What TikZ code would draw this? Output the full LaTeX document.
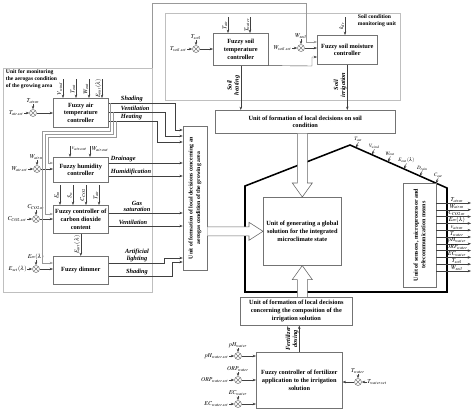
\documentclass[tikz,border=0pt]{standalone}
\usepackage{mathptmx}
\usepackage{fontspec}
\setmainfont{Liberation Serif}
\usetikzlibrary{calc,positioning,arrows.meta}

\tikzset{
	unitframe/.style={draw=black!25, line width=0.4pt},
	house/.style={draw=black, line width=1.1pt, line join=miter},
	ctrl/.style={draw=black!55, fill=white, line width=0.4pt, align=center, inner sep=1pt, font=\fontsize{4.5}{5.6}\selectfont\bfseries},
	unit/.style={ctrl},
	title/.style={align=left, inner sep=0.5pt, font=\fontsize{4}{4.8}\selectfont\bfseries},
	sum/.style={circle, draw=black!50, fill=white, inner sep=0pt, minimum size=0.175cm,
		path picture={\draw[black!50] (path picture bounding box.north west) -- (path picture bounding box.south east)
			(path picture bounding box.north east) -- (path picture bounding box.south west);}},
	arr/.style={draw=black!75, line width=0.3pt, -{Stealth[length=2.4pt,width=1.8pt]}},
	fb/.style={arr, draw=black!40},
	sig/.style={inner sep=0.4pt, font=\fontsize{4.2}{4.8}\selectfont},
	roofsig/.style={inner sep=0.1pt, font=\fontsize{3.6}{4}\selectfont},
	act/.style={inner sep=0.5pt, align=center, font=\fontsize{4.5}{4.9}\selectfont\bfseries\itshape},
	fat/.style={draw=black!60, fill=white, line width=0.4pt, line join=miter}
}

\begin{document}
\begin{tikzpicture}[x=0.025cm,y=-0.025cm]
	\useasboundingbox (0,0) rectangle (474,410);
	
	%frames of the monitoring units
	\draw[unitframe] (3,68) rectangle (152,292);
	\draw[unitframe] (165,13) rectangle (400,100);
	
	%greenhouse
	\draw[house] (245,292) -- (245,186) -- (350,145) -- (447,188) -- (447,292) -- cycle;
	
	%titles
	\node[title, anchor=north west] (agtitle) at (5,69) {Unit for monitoring\\the aerogas condition\\of the growing area};
	\node[title, anchor=north west] (sltitle) at (357,14) {Soil condition\\monitoring unit};
	
	%aerogas controllers
	\node[ctrl, anchor=north west, minimum width=1.375cm, minimum height=0.725cm] (atc) at (53,98) {Fuzzy air\\temperature\\controller};
	\node[ctrl, anchor=north west, minimum width=1.375cm, minimum height=0.625cm] (hc) at (53,157) {Fuzzy humidity\\controller};
	\node[ctrl, anchor=north west, minimum width=1.375cm, minimum height=0.7cm] (cc) at (53,205) {Fuzzy controller of\\carbon dioxide\\content};
	\node[ctrl, anchor=north west, minimum width=1.375cm, minimum height=0.7cm] (dim) at (53,256) {Fuzzy dimmer};
	
	%soil controllers
	\node[ctrl, anchor=north west, minimum width=1.375cm, minimum height=0.8cm] (stc) at (213,33) {Fuzzy soil\\temperature\\controller};
	\node[ctrl, anchor=north west, minimum width=1.5cm, minimum height=0.725cm] (smc) at (317,35) {Fuzzy soil moisture\\controller};
	
	%decision units
	\node[unit, rotate=90, minimum width=3.6cm, minimum height=0.6cm, font=\fontsize{4.1}{5.2}\selectfont\bfseries] (agd) at (195,198) {Unit of formation of local decisions concerning an\\aerogas condition of the growing area};
	\node[unit, anchor=north west, minimum width=4.5cm, minimum height=0.575cm] (sdec) at (215,110) {Unit of formation of local decisions on soil\\condition};
	\node[unit, anchor=north west, minimum width=1.95cm, minimum height=1.7cm] (glob) at (263,197) {Unit of generating a global\\solution for the integrated\\microclimate state};
	\node[unit, anchor=north west, minimum width=2.8cm, minimum height=0.7cm] (bdec) at (240,297) {Unit of formation of local decisions\\concerning the composition of the\\irrigation solution};
	\node[unit, rotate=90, minimum width=2.6cm, minimum height=0.825cm, font=\fontsize{4.3}{5.4}\selectfont\bfseries] (sens) at (419.5,235) {Unit of sensors, microprocessor and\\telecommunication means};
	\node[ctrl, anchor=north west, minimum width=2.15cm, minimum height=1.4cm] (fc) at (256,352) {Fuzzy controller of fertilizer\\application to the irrigation\\solution};
	
	%summing junctions - aerogas
	\node[sum] (jT) at (33,113) {};
	\node[sum] (jW) at (37,169) {};
	\node[sum] (jC) at (36,219) {};
	\node[sum] (jE) at (36,269) {};
	%
	\node[sig, above=1.2mm of jT] (jTm) {$T_{air.m}$};
	\node[sig, above=1.2mm of jW] (jWm) {$W_{air.m}$};
	\node[sig, above=1.2mm of jC] (jCm) {$C_{CO2.m}$};
	\node[sig, above=1.2mm of jE] (jEm) {$E_{m}(\lambda)$};
	%
	\node[sig, left=1.2mm of jT] (jTs) {$T_{air.set}$};
	\node[sig, left=1.2mm of jW] (jWs) {$W_{air.set}$};
	\node[sig, left=1.2mm of jC] (jCs) {$C_{CO2.set}$};
	\node[sig, left=1.2mm of jE] (jEs) {$E_{set}(\lambda)$};
	%
	\foreach \j/\c in {jT/atc, jW/hc, jC/cc, jE/dim}{
		\draw[arr] (\j m) -- (\j);
		\draw[arr] (\j s) -- (\j);
		\draw[arr] (\j) -- (\j -| \c.west);
	}
	
	%disturbances into the aerogas controllers
	\foreach \x/\lbl in {63/{V_{wind}},76/{T_{out}},89/{W_{out}},102/{E_{out}(\lambda)}}{
		\coordinate (ai\x) at (\x,79);
		\draw[arr] (ai\x) -- (ai\x |- atc.north) node[sig, midway, rotate=90, anchor=south] (ail\x) {$\lbl$};
	}
	\foreach \x/\lbl in {70/{v_{air.out}},90/{W_{air.out}}}{
		\coordinate (hi\x) at (\x,146);
		\draw[arr] (hi\x) -- (hi\x |- hc.north);
		\node[sig, anchor=west] (hil\x) at ($(hi\x)+(1,3)$) {$\lbl$};
	}
	\foreach \x/\lbl in {60/{E_{m}},73/{S_{w}},86/{C_{CO2}},99/{T_{air}}}{
		\coordinate (ci\x) at (\x,185);
		\draw[arr] (ci\x) -- (ci\x |- cc.north) node[sig, midway, rotate=90, anchor=south] (cil\x) {$\lbl$};
	}
	\draw[arr] (cc.south) -- (cc.south |- dim.north) node[sig, midway, rotate=90, anchor=south] (eart) {$E_{art}(\lambda)$};
	
	%actuator signals to the aerogas decision unit
	\coordinate (ash) at (175,103);
	\coordinate (ave) at (165,112);
	\coordinate (ahe) at (157,121);
	\draw[arr] (atc.east |- ash) -- (ash) |- (agd.north |- 0,130);
	\draw[arr] (atc.east |- ave) -- (ave) |- (agd.north |- 0,136);
	\draw[arr] (atc.east |- ahe) -- (ahe) |- (agd.north |- 0,142);
	\node[act, anchor=south west] (lsh) at (120,103) {Shading};
	\node[act, anchor=south west] (lve) at (120,112) {Ventilation};
	\node[act, anchor=south west] (lhe) at (120,121) {Heating};
	%
	\draw[arr] (hc.east |- 0,163) -- (agd.north |- 0,163);
	\draw[arr] (hc.east |- 0,176) -- (agd.north |- 0,176);
	\node[act, anchor=south west] (ldr) at (110,163) {Drainage};
	\node[act, anchor=south west] (lhu) at (110,176) {Humidification};
	%
	\draw[arr] (cc.east |- 0,213) -- (agd.north |- 0,213);
	\draw[arr] (cc.east |- 0,226) -- (agd.north |- 0,226);
	\node[act, anchor=south] (lgs) at (137,213) {Gas\\saturation};
	\node[act, anchor=south] (lcv) at (133,226) {Ventilation};
	%
	\coordinate (dal) at (164,263);
	\coordinate (dsh) at (172,276);
	\draw[arr] (dim.east |- dal) -- (dal) |- (agd.north |- 0,258);
	\draw[arr] (dim.east |- dsh) -- (dsh) |- (agd.north |- 0,262);
	\node[act, anchor=south] (lal) at (137,263) {Artificial\\lighting};
	\node[act, anchor=south] (lds) at (137,276) {Shading};
	
	%feedback rails
	\draw[fb] (110,103) -- (110,131) -- (42,131) -- (42,263) -- (dim.west |- 0,263);
	\draw[fb] (113,112) -- (113,134) -- (45,134) -- (45,214) -- (cc.west |- 0,214);
	\draw[fb] (116,121) -- (116,137) -- (48,137) -- (48,163) -- (hc.west |- 0,163);
	
	%summing junctions - soil
	\node[sum] (st) at (196,49) {};
	\node[sum] (sw) at (301,48) {};
	\node[sig, above=1.2mm of st] (stm) {$T_{soil}$};
	\node[sig, above=1.2mm of sw] (swm) {$W_{soil}$};
	\node[sig, left=1.2mm of st] (sts) {$T_{soil.set}$};
	\node[sig, left=1.2mm of sw] (sws) {$W_{soil.set}$};
	\foreach \j/\c in {st/stc, sw/smc}{
		\draw[arr] (\j m) -- (\j);
		\draw[arr] (\j s) -- (\j);
		\draw[arr] (\j) -- (\j -| \c.west);
	}
	\foreach \x/\lbl in {228/{T_{air}},250/{T_{water}}}{
		\coordinate (si\x) at (\x,17);
		\draw[arr] (si\x) -- (si\x |- stc.north) node[sig, midway, rotate=90, anchor=south] (sil\x) {$\lbl$};
	}
	\coordinate (mi) at (345,17);
	\draw[arr] (mi) -- (mi |- smc.north) node[sig, midway, rotate=90, anchor=south] (mil) {$k_{dr}$};
	%
	\coordinate (tk1) at (312,66);
	\coordinate (tk2) at (312,57);
	\draw[arr] (stc.south east) -- (tk1) -- (tk2) -- (tk2 -| smc.west);
	%
	\coordinate (gA) at (152,68);
	\coordinate (gB) at (152,3);
	\coordinate (gC) at (306,3);
	\coordinate (gD) at (306,42);
	\draw[fb] (gA) -- (gB) -- (gC) -- (gD) -- (gD -| smc.west);
	%
	\draw[arr] (stc.south) -- (stc.south |- sdec.north) node[act, pos=0.45, rotate=90, anchor=south] (lsoh) {Soil\\heating};
	\draw[arr] (smc.south) -- (smc.south |- sdec.north) node[act, pos=0.45, rotate=90, anchor=south] (lsoi) {Soil\\irrigation};
	
	%fat arrows to the global unit
	\coordinate (fa1) at (glob.north |- sdec.south);
	\draw[fat] ($(fa1)+(-5,0)$) -- ($(glob.north)+(-5,-14)$) -- ($(glob.north)+(-10,-14)$) -- (glob.north) -- ($(glob.north)+(10,-14)$) -- ($(glob.north)+(5,-14)$) -- ($(fa1)+(5,0)$);
	\coordinate (fb1) at (agd.south |- glob.west);
	\draw[fat] ($(fb1)+(0,-4.5)$) -- ($(glob.west)+(-14,-4.5)$) -- ($(glob.west)+(-14,-9)$) -- (glob.west) -- ($(glob.west)+(-14,9)$) -- ($(glob.west)+(-14,4.5)$) -- ($(fb1)+(0,4.5)$);
	\coordinate (fc1) at (glob.south |- bdec.north);
	\draw[fat] ($(fc1)+(-5,0)$) -- ($(glob.south)+(-5,14)$) -- ($(glob.south)+(-10,14)$) -- (glob.south) -- ($(glob.south)+(10,14)$) -- ($(glob.south)+(5,14)$) -- ($(fc1)+(5,0)$);
	
	%outside conditions on the roof
	\foreach \x/\lbl [count=\i] in {356/{T_{out}},372/{V_{wind}},388/{W_{out}},404/{E_{out}(\lambda)},420/{D_{rain}},436/{C_{out}}}{
		\pgfmathsetmacro\ry{145+0.443*(\x-350)}
		\coordinate (rt\i) at (\x,\ry);
		\coordinate (rs\i) at ($(rt\i)+(2.4,-5.5)$);
		\draw[arr] (rs\i) -- (rt\i);
		\node[roofsig, anchor=south] (rl\i) at (rs\i) {$\lbl$};
	}
	
	%measured values leaving the sensor unit
	\foreach \lbl [count=\i] in {T_{air.m},W_{air.m},C_{CO2.m},E_{m}(\lambda),v_{air.m},T_{water},pH_{water},ORP_{water},EC_{water},T_{soil},W_{soil}}{
		\pgfmathsetmacro\yy{203+6.8*(\i-1)}
		\coordinate (so\i) at (471,\yy);
		\draw[arr] (sens.south |- so\i) -- (so\i);
		\node[sig, anchor=south] (sl\i) at (457,\yy) {$\lbl$};
	}
	
	%fertilizer controller
	\node[sum] (jph) at (238,356) {};
	\node[sum] (jorp) at (238,380) {};
	\node[sum] (jec) at (238,404) {};
	\node[sig, above=1mm of jph] (jphm) {$pH_{water}$};
	\node[sig, above=1mm of jorp] (jorpm) {$ORP_{water}$};
	\node[sig, above=1mm of jec] (jecm) {$EC_{water}$};
	\node[sig, left=1.2mm of jph] (jphs) {$pH_{water.set}$};
	\node[sig, left=1.2mm of jorp] (jorps) {$ORP_{water.set}$};
	\node[sig, left=1.2mm of jec] (jecs) {$EC_{water.set}$};
	\foreach \j in {jph, jorp, jec}{
		\draw[arr] (\j m) -- (\j);
		\draw[arr] (\j s) -- (\j);
		\draw[arr] (\j) -- (\j -| fc.west);
	}
	\node[sum] (jtw) at (358,382) {};
	\node[sig, above=1mm of jtw] (jtwm) {$T_{water}$};
	\node[sig, right=1.2mm of jtw] (jtws) {$T_{water.set}$};
	\draw[arr] (jtwm) -- (jtw);
	\draw[arr] (jtws) -- (jtw);
	\draw[arr] (jtw) -- (jtw -| fc.east);
	%
	\draw[arr] (fc.north) -- (fc.north |- bdec.south) node[act, midway, rotate=90, anchor=south] (lfd) {Fertilizer\\dosing};
	
	%\draw[help lines,step=10] (0,0) grid (474,410);
\end{tikzpicture}
\end{document}
